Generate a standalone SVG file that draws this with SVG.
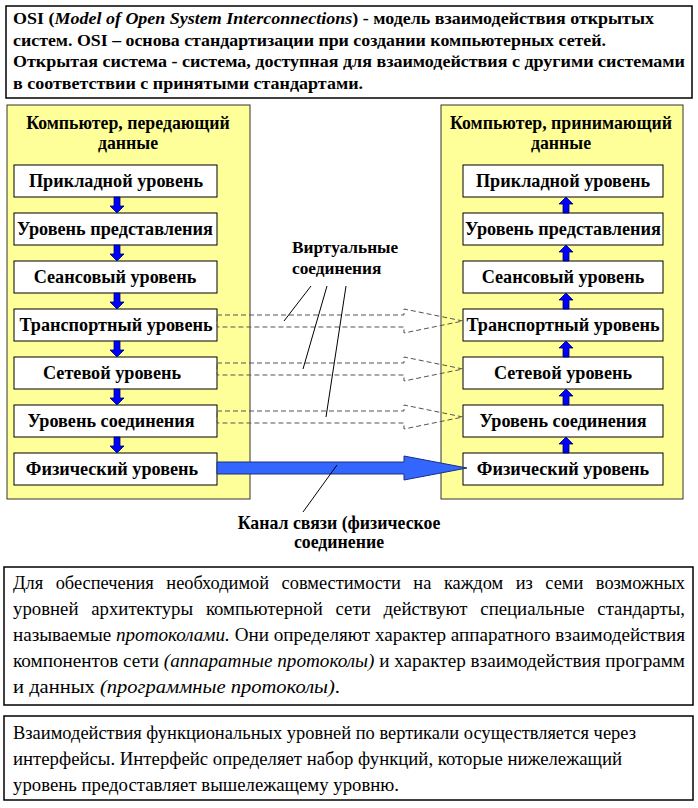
<svg xmlns="http://www.w3.org/2000/svg" xmlns:xlink="http://www.w3.org/1999/xlink" width="698" height="808" viewBox="0 0 698 808" font-family="Liberation Serif, serif">
<style>
.b{font-weight:bold;fill:#000}
.r{fill:#000}
.hd{font-size:17.8px;text-anchor:middle}
.lv{font-size:18.2px;text-anchor:middle}
.box{fill:#fff;stroke:#000;stroke-width:1}
.panel{fill:#ffff99;stroke:#333;stroke-width:1}
.frame{fill:#fff;stroke:#000;stroke-width:1.5}
.dash{fill:none;stroke:#555;stroke-width:1;stroke-dasharray:5,3}
.lead{stroke:#000;stroke-width:1;fill:none}
.sa{fill:#0000ff;stroke:#00005a;stroke-width:0.8}
</style>
<defs>
<path id="dn" d="M-3,0 H3 V9 H7 L0,16 L-7,9 H-3 Z"/>
<path id="up" d="M0,0 L7,7 H3 V16 H-3 V7 H-7 Z"/>
</defs>
<rect width="698" height="808" fill="#fff"/>
<g id="intro">
<rect class="frame" x="6" y="6" width="686" height="92"/>
<text class="b" font-size="17.5" x="13" y="24" textLength="641" lengthAdjust="spacingAndGlyphs">OSI (<tspan font-style="italic">Model of Open System Interconnections</tspan>) - модель взаимодействия открытых</text>
<text class="b" font-size="17.5" x="13" y="46" textLength="593" lengthAdjust="spacingAndGlyphs">систем. OSI – основа стандартизации при создании компьютерных сетей.</text>
<text class="b" font-size="17.5" x="13" y="67" textLength="672" lengthAdjust="spacingAndGlyphs">Открытая система - система, доступная для взаимодействия с другими системами</text>
<text class="b" font-size="17.5" x="13" y="89" textLength="350" lengthAdjust="spacingAndGlyphs">в соответствии с принятыми стандартами.</text>
</g>
<g id="sender">
<rect class="panel" x="7" y="105" width="243" height="394"/>
<text class="b hd" x="128" y="129">Компьютер, передающий</text>
<text class="b hd" x="128" y="149">данные</text>
</g>
<g id="receiver">
<rect class="panel" x="441" y="105" width="242" height="394"/>
<text class="b hd" x="561" y="129">Компьютер, принимающий</text>
<text class="b hd" x="561" y="149">данные</text>
</g>
<g id="s1"><rect class="box" x="14" y="165" width="203" height="32"/><text class="b lv" x="116" y="187">Прикладной уровень</text></g>
<g id="s2"><rect class="box" x="14" y="213" width="203" height="32"/><text class="b lv" x="115" y="235">Уровень представления</text></g>
<g id="s3"><rect class="box" x="14" y="261" width="203" height="32"/><text class="b lv" x="115" y="283">Сеансовый уровень</text></g>
<g id="s4"><rect class="box" x="14" y="309" width="203" height="32"/><text class="b lv" x="116" y="331">Транспортный уровень</text></g>
<g id="s5"><rect class="box" x="14" y="357" width="203" height="32"/><text class="b lv" x="112" y="379">Сетевой уровень</text></g>
<g id="s6"><rect class="box" x="14" y="405" width="203" height="32"/><text class="b lv" x="111" y="427">Уровень соединения</text></g>
<g id="s7"><rect class="box" x="14" y="453" width="203" height="32"/><text class="b lv" x="112" y="475">Физический уровень</text></g>
<g id="r1"><rect class="box" x="463" y="165" width="200" height="32"/><text class="b lv" x="563" y="187">Прикладной уровень</text></g>
<g id="r2"><rect class="box" x="463" y="213" width="200" height="32"/><text class="b lv" x="563" y="235">Уровень представления</text></g>
<g id="r3"><rect class="box" x="463" y="261" width="200" height="32"/><text class="b lv" x="563" y="283">Сеансовый уровень</text></g>
<g id="r4"><rect class="box" x="463" y="309" width="200" height="32"/><text class="b lv" x="563" y="331">Транспортный уровень</text></g>
<g id="r5"><rect class="box" x="463" y="357" width="200" height="32"/><text class="b lv" x="563" y="379">Сетевой уровень</text></g>
<g id="r6"><rect class="box" x="463" y="405" width="200" height="32"/><text class="b lv" x="563" y="427">Уровень соединения</text></g>
<g id="r7"><rect class="box" x="463" y="453" width="200" height="32"/><text class="b lv" x="563" y="475">Физический уровень</text></g>
<g id="connectors">
<use xlink:href="#dn" class="sa" x="117" y="197"/>
<use xlink:href="#dn" class="sa" x="117" y="245"/>
<use xlink:href="#dn" class="sa" x="117" y="293"/>
<use xlink:href="#dn" class="sa" x="117" y="341"/>
<use xlink:href="#dn" class="sa" x="117" y="389"/>
<use xlink:href="#dn" class="sa" x="117" y="437"/>
<use xlink:href="#up" class="sa" x="566" y="197"/>
<use xlink:href="#up" class="sa" x="566" y="245"/>
<use xlink:href="#up" class="sa" x="566" y="293"/>
<use xlink:href="#up" class="sa" x="566" y="341"/>
<use xlink:href="#up" class="sa" x="566" y="389"/>
<use xlink:href="#up" class="sa" x="566" y="437"/>
<path class="dash" d="M217,315 H404 V309 L463,321 L404,333 V327 H217 Z"/>
<path class="dash" d="M217,363 H404 V357 L463,369 L404,381 V375 H217 Z"/>
<path class="dash" d="M217,411 H404 V405 L463,417 L404,429 V423 H217 Z"/>
<path d="M217,462 H404 V456 L467,468 L404,480 V474 H217 Z" fill="#3366ff" stroke="#1a2f80" stroke-width="1"/>
<line class="lead" x1="311" y1="286" x2="284" y2="321"/>
<line class="lead" x1="327" y1="286" x2="303" y2="369"/>
<line class="lead" x1="346" y1="286" x2="326" y2="417"/>
<line class="lead" x1="303" y1="512" x2="337" y2="465"/>
</g>
<g id="virtual-label">
<text class="b" font-size="17.3" x="292" y="253">Виртуальные</text>
<text class="b" font-size="17.3" x="292" y="274">соединения</text>
</g>
<g id="channel-label">
<text class="b" font-size="17.8" x="339" y="529" text-anchor="middle">Канал связи (физическое</text>
<text class="b" font-size="17.8" x="339" y="548" text-anchor="middle">соединение</text>
</g>
<g id="protocols">
<rect class="frame" x="4" y="567" width="689" height="138"/>
<text class="r" font-size="18.5" x="13" y="589" textLength="672" lengthAdjust="spacingAndGlyphs" word-spacing="8">Для обеспечения необходимой совместимости на каждом из семи возможных</text>
<text class="r" font-size="18.5" x="13" y="615" textLength="672" lengthAdjust="spacingAndGlyphs" word-spacing="8">уровней архитектуры компьютерной сети действуют специальные стандарты,</text>
<text class="r" font-size="18.5" x="13" y="641" textLength="672" lengthAdjust="spacingAndGlyphs">называемые <tspan font-style="italic">протоколами.</tspan> Они определяют характер аппаратного взаимодействия</text>
<text class="r" font-size="18.5" x="13" y="667" textLength="672" lengthAdjust="spacingAndGlyphs">компонентов сети <tspan font-style="italic">(аппаратные протоколы)</tspan> и характер взаимодействия программ</text>
<text class="r" font-size="18.5" x="13" y="693" textLength="327" lengthAdjust="spacingAndGlyphs">и данных <tspan font-style="italic">(программные протоколы)</tspan>.</text>
</g>
<g id="interfaces">
<rect class="frame" x="4" y="716" width="689" height="84"/>
<text class="r" font-size="18.5" x="13" y="739" textLength="623" lengthAdjust="spacingAndGlyphs">Взаимодействия функциональных уровней по вертикали осуществляется через</text>
<text class="r" font-size="18.5" x="13" y="765" textLength="609" lengthAdjust="spacingAndGlyphs">интерфейсы. Интерфейс определяет набор функций,  которые нижележащий</text>
<text class="r" font-size="18.5" x="13" y="791" textLength="386" lengthAdjust="spacingAndGlyphs">уровень предоставляет вышележащему  уровню.</text>
</g>
</svg>
